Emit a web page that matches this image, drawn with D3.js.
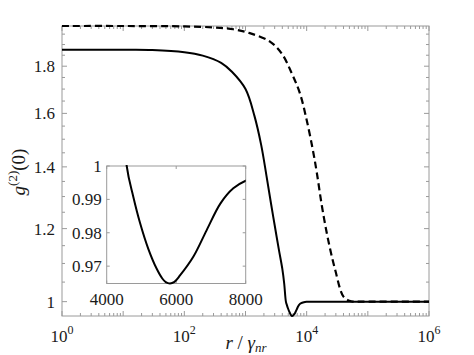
<!DOCTYPE html>
<html>
<head>
<meta charset="utf-8">
<script src="https://cdn.jsdelivr.net/npm/d3@7"></script>
<style>
  html, body { margin: 0; padding: 0; background: #fff; }
  svg { display: block; }
</style>
</head>
<body>
<svg id="chart" width="474" height="355"></svg>
<script>
// ---- data ----
const solidR = [1, 10, 30, 100, 200, 400, 600, 1000, 1400, 1800, 2200, 2600, 3000, 3500, 4000, 4300, 4576, 4765, 4958, 5197, 5439, 5600, 5700, 5820, 5950, 6109, 6492, 6878, 7275, 7643, 8000, 9000, 10000, 12000, 15000, 100000, 1000000];
const solidG = [1.875, 1.875, 1.874, 1.864, 1.848, 1.815, 1.775, 1.70, 1.59, 1.48, 1.37, 1.28, 1.21, 1.14, 1.085, 1.045, 1.000, 0.9908, 0.9830, 0.9752, 0.9692, 0.9663, 0.9652, 0.9648, 0.9653, 0.9672, 0.9728, 0.9808, 0.9888, 0.9933, 0.9956, 0.9985, 0.9995, 0.9999, 1.0, 1.0, 1.0];
const dashR = [1, 10, 100, 300, 631, 1175, 2512, 3890, 5690, 7760, 10000, 12600, 14700, 17800, 22500, 29300, 40000, 50000, 57000, 70000, 100000, 1000000];
const dashG = [1.99, 1.99, 1.988, 1.983, 1.974, 1.955, 1.914, 1.859, 1.769, 1.682, 1.574, 1.461, 1.378, 1.268, 1.166, 1.082, 1.0124, 1.002, 1.0, 1.0, 1.0, 1.0];
const xMajorExp = [0, 2, 4, 6];
const yMajor = [1, 1.2, 1.4, 1.6, 1.8];
const yMajorLabels = ["1", "1.2", "1.4", "1.6", "1.8"];
const insetXTicks = [4000, 6000, 8000];
const insetYTicks = [0.97, 0.98, 0.99, 1];
const insetYLabels = ["0.97", "0.98", "0.99", "1"];

// ---- layout ----
const FONT = "Liberation Serif, Tinos, Times New Roman, Times, Noto Serif, DejaVu Serif, serif";
const TXT = "#1a1a1a";
const svg = d3.select("#chart");
const L = 62, R = 429, T = 26, B = 316;
const axisColor = "#9a9a9a";

const x = d3.scaleLog().domain([1, 1e6]).range([L, R]);
const y = d3.scaleLog().domain([0.9648, 1.99]).range([B, T]);

const xMinor = [];
for (let e = 0; e < 6; e++) for (let k = 2; k <= 9; k++) xMinor.push(k * Math.pow(10, e));
const xMajorVals = [];
for (let e = 0; e <= 6; e++) xMajorVals.push(Math.pow(10, e));
const yMinor = [];
for (let v = 1.05; v < 1.99; v += 0.05) {
  const r = Math.round(v * 100) / 100;
  if (!yMajor.includes(r)) yMinor.push(r);
}

const g = svg.append("g");
function txt(sel) { return sel.append("text").style("font-family", FONT).attr("fill", TXT); }

g.append("rect").attr("x", L).attr("y", T).attr("width", R - L).attr("height", B - T)
  .attr("fill", "none").attr("stroke", axisColor).attr("stroke-width", 1);

function vt(v, len, yEdge, dir) {
  g.append("line").attr("x1", x(v)).attr("x2", x(v)).attr("y1", yEdge).attr("y2", yEdge + dir * len)
    .attr("stroke", axisColor).attr("stroke-width", 1);
}
function ht(v, len, xEdge, dir) {
  g.append("line").attr("y1", y(v)).attr("y2", y(v)).attr("x1", xEdge).attr("x2", xEdge + dir * len)
    .attr("stroke", axisColor).attr("stroke-width", 1);
}
xMajorVals.forEach(v => { vt(v, 5, B, -1); vt(v, 5, T, 1); });
xMinor.forEach(v => { vt(v, 3, B, -1); vt(v, 3, T, 1); });
yMajor.forEach(v => { ht(v, 5, L, 1); ht(v, 5, R, -1); });
yMinor.forEach(v => { ht(v, 3, L, 1); ht(v, 3, R, -1); });

yMajor.forEach((v, i) => {
  txt(g).attr("x", L - 7).attr("y", y(v)).attr("dy", "0.35em")
    .attr("text-anchor", "end").attr("font-size", 17).text(yMajorLabels[i]);
});
xMajorExp.forEach(e => {
  const t = txt(g).attr("x", x(Math.pow(10, e))).attr("y", 342)
    .attr("text-anchor", "middle").attr("font-size", 17);
  t.append("tspan").text("10");
  t.append("tspan").attr("dy", -8).attr("font-size", 12).text(String(e));
});

const yl = txt(g).attr("transform", "translate(25,172) rotate(-90)")
  .attr("text-anchor", "middle").attr("font-size", 19);
yl.append("tspan").attr("font-style", "italic").text("g");
yl.append("tspan").attr("dy", -8).attr("font-size", 13).text("(2)");
yl.append("tspan").attr("dy", 8).text("(0)");

const xl = txt(g).attr("x", 246).attr("y", 349)
  .attr("text-anchor", "middle").attr("font-size", 19).attr("font-style", "italic");
xl.append("tspan").text("r");
xl.append("tspan").attr("font-style", "normal").text(" / ");
xl.append("tspan").text("γ");
xl.append("tspan").attr("dy", 3).attr("font-size", 13).text("nr");

const solidData = solidR.map((r, i) => [r, solidG[i]]);
const dashData = dashR.map((r, i) => [r, dashG[i]]);
const line = d3.line().x(d => x(d[0])).y(d => y(d[1])).curve(d3.curveCatmullRom.alpha(0.5));

g.append("path").datum(dashData).attr("d", line).attr("fill", "none")
  .attr("stroke", "#000").attr("stroke-width", 2.2).attr("stroke-dasharray", "7,4");
g.append("path").datum(solidData).attr("d", line).attr("fill", "none")
  .attr("stroke", "#000").attr("stroke-width", 2);

// ---- inset ----
const iL = 106.7, iR = 245.7, iT = 166, iB = 283.5;
const ix = d3.scaleLinear().domain([4000, 8000]).range([iL, iR]);
const iy = d3.scaleLinear().domain([0.9648, 1.0]).range([iB, iT]);
const ig = svg.append("g");
ig.append("rect").attr("x", iL).attr("y", iT).attr("width", iR - iL).attr("height", iB - iT)
  .attr("fill", "#fff").attr("stroke", axisColor).attr("stroke-width", 1);
svg.append("clipPath").attr("id", "iclip").append("rect")
  .attr("x", iL).attr("y", iT - 1).attr("width", iR - iL).attr("height", iB - iT + 3);

insetXTicks.forEach(v => {
  ig.append("line").attr("x1", ix(v)).attr("x2", ix(v)).attr("y1", iB).attr("y2", iB - 3).attr("stroke", axisColor);
  ig.append("line").attr("x1", ix(v)).attr("x2", ix(v)).attr("y1", iT).attr("y2", iT + 3).attr("stroke", axisColor);
  txt(ig).attr("x", ix(v)).attr("y", 305).attr("text-anchor", "middle")
    .attr("font-size", 17).text(String(v));
});
insetYTicks.forEach((v, i) => {
  ig.append("line").attr("x1", iL).attr("x2", iL + 3).attr("y1", iy(v)).attr("y2", iy(v)).attr("stroke", axisColor);
  ig.append("line").attr("x1", iR).attr("x2", iR - 3).attr("y1", iy(v)).attr("y2", iy(v)).attr("stroke", axisColor);
  txt(ig).attr("x", iL - 5).attr("y", iy(v)).attr("dy", "0.35em").attr("text-anchor", "end")
    .attr("font-size", 17).text(insetYLabels[i]);
});

const insetData = solidData.filter(d => d[0] >= 4300 && d[0] <= 9000);
const iline = d3.line().x(d => ix(d[0])).y(d => iy(d[1])).curve(d3.curveCatmullRom.alpha(0.5));
ig.append("path").datum(insetData).attr("d", iline).attr("clip-path", "url(#iclip)")
  .attr("fill", "none").attr("stroke", "#000").attr("stroke-width", 2);
</script>
</body>
</html>
